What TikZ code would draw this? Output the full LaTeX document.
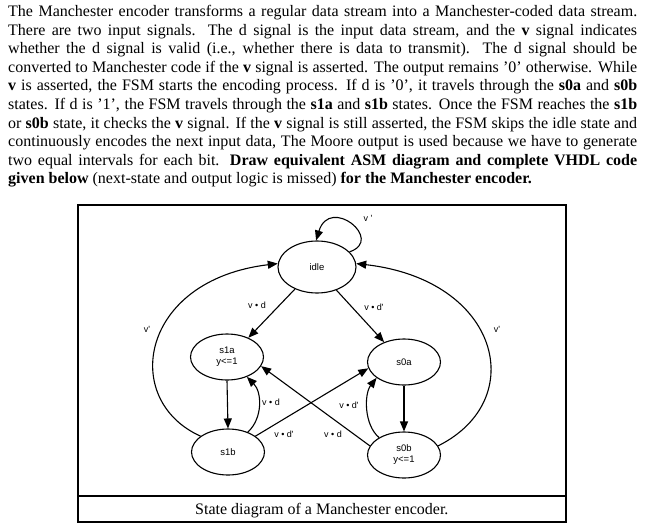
\documentclass[tikz,border=0pt]{standalone}
\usepackage{fontspec}
\setmainfont{Liberation Serif}
\newfontfamily\diagfont{Liberation Sans}
\usetikzlibrary{shapes.geometric,arrows.meta}
\begin{document}
\begin{tikzpicture}[x=1pt,y=-1pt,
  state/.style={draw,ellipse,line width=1.1pt,minimum width=73pt,minimum height=46pt,inner sep=0pt,align=center,font=\diagfont\fontsize{9.5}{11}\selectfont},
  conn/.style={line width=1.1pt,-{Triangle[length=10pt,width=8pt]}},
  lbl/.style={font=\diagfont\fontsize{9}{10}\selectfont,inner sep=0pt},
  frame/.style={line width=1.2pt}]
\useasboundingbox (0,0) rectangle (646,523);
% paragraph
\node[anchor=north west,inner sep=0pt,text width=629pt,align=justify,
      font=\fontsize{16}{18.6}\selectfont] (para) at (8,5) {%
The Manchester encoder transforms a regular data stream into a Manchester-coded data stream.\linebreak
There are two input signals. The d signal is the input data stream, and the \textbf{v} signal indicates\linebreak
whether the d signal is valid (i.e., whether there is data to transmit). The d signal should be\linebreak
converted to Manchester code if the \textbf{v} signal is asserted. The output remains ’0’ otherwise. While\linebreak
\textbf{v} is asserted, the FSM starts the encoding process. If d is ’0’, it travels through the \textbf{s0a} and \textbf{s0b}\linebreak
states. If d is ’1’, the FSM travels through the \textbf{s1a} and \textbf{s1b} states. Once the FSM reaches the \textbf{s1b}\linebreak
or \textbf{s0b} state, it checks the \textbf{v} signal. If the \textbf{v} signal is still asserted, the FSM skips the idle state and\linebreak
continuously encodes the next input data, The Moore output is used because we have to generate\linebreak
two equal intervals for each bit. \textbf{Draw equivalent ASM diagram and complete VHDL code}\linebreak
\textbf{given below} (next-state and output logic is missed) \textbf{for the Manchester encoder.}};
% frame
\draw[frame] (78,205) rectangle (566,522);
\draw[frame] (78,496) -- (566,496);
\node[anchor=base west,inner sep=0pt,font=\fontsize{16}{18}\selectfont] (cap) at (195,514) {State diagram of a Manchester encoder.};
% states
\node[state,minimum width=78pt,minimum height=52pt] (idle) at (317,267) {idle};
\node[state] (s1a) at (227,357) {s1a\\[0pt]y<=1};
\node[state] (s0a) at (404,362) {s0a};
\node[state] (s1b) at (228,452) {s1b};
\node[state] (s0b) at (404,455) {s0b\\[0pt]y<=1};
% connectors
\draw[conn] (idle.25) .. controls (385,240) and (330,195) .. (idle.92);
\draw[conn] (idle.-135) -- (s1a.42);
\draw[conn] (idle.-50) -- (s0a.135);
\draw[conn] (s1a.south) -- (s1b.north);
\draw[conn] (s0a.south) -- (s0b.north);
\draw[conn] (s1b.45) .. controls (263,418) and (262,392) .. (s1a.-45);
\draw[conn] (s0b.145) .. controls (364,425) and (364,394) .. (s0a.-150);
\draw[conn] (s1b.30) -- (s0a.190);
\draw[conn] (s0b.165) -- (s1a.-15);
\draw[conn] (s1b.150) .. controls (120,400) and (140,280) .. (idle.175);
\draw[conn] (s0b.15) .. controls (530,400) and (500,280) .. (idle.5);
% labels
\node[lbl] (l1) at (368,218) {v '};
\node[lbl] (l2) at (257,305) {v • d};
\node[lbl] (l3) at (374,307) {v • d'};
\node[lbl] (l4) at (147,329) {v'};
\node[lbl] (l5) at (497,329) {v'};
\node[lbl] (l6) at (271,402) {v • d};
\node[lbl] (l7) at (284,434) {v • d'};
\node[lbl] (l8) at (333,434) {v • d};
\node[lbl] (l9) at (349,405) {v • d'};
\end{tikzpicture}
\end{document}
